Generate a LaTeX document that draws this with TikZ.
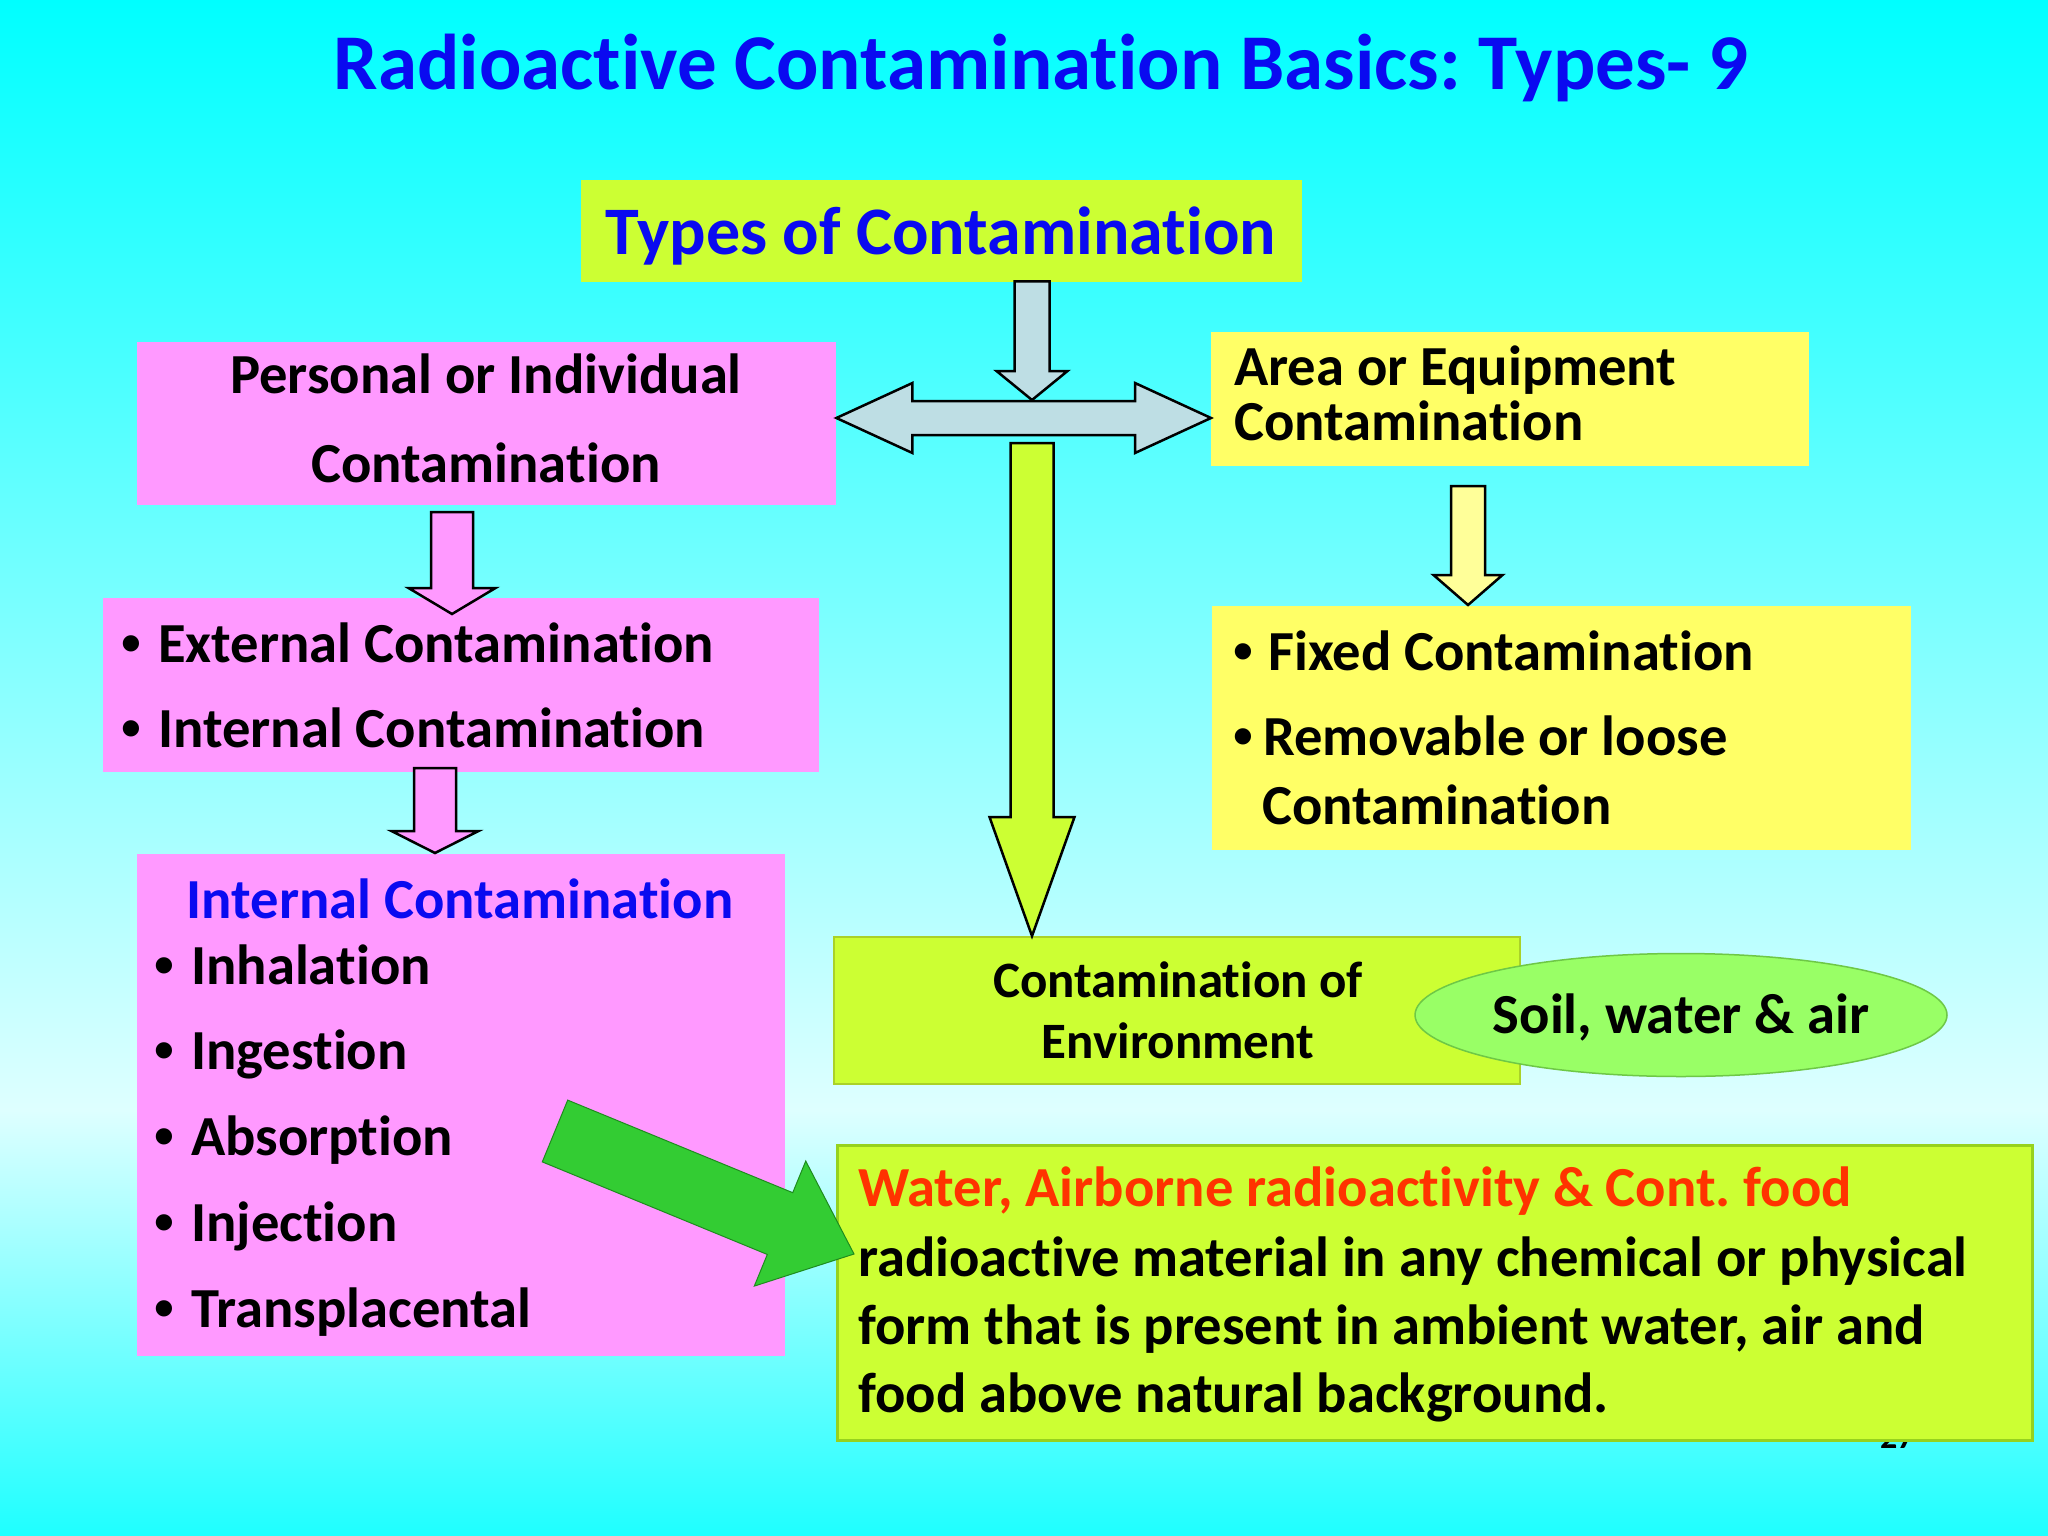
\documentclass[tikz,border=0pt]{standalone}
\usepackage{fontspec}
\setmainfont{Carlito}[Ligatures=NoCommon]
\newfontfamily\bulletfont{Liberation Sans}
\usetikzlibrary{calc,shapes.geometric}
\frenchspacing

\definecolor{skytop}{RGB}{0,255,255}
\definecolor{skymid}{RGB}{222,255,255}
\definecolor{skybot}{RGB}{30,255,255}
\definecolor{limefill}{RGB}{204,255,51}
\definecolor{pinkfill}{RGB}{255,153,255}
\definecolor{yellowfill}{RGB}{255,255,102}
\definecolor{paleyellow}{RGB}{255,255,153}
\definecolor{steelfill}{RGB}{190,222,228}
\definecolor{soilfill}{RGB}{153,255,102}
\definecolor{arrowgreen}{RGB}{51,204,51}
\definecolor{titleblue}{RGB}{10,10,240}
\definecolor{warnred}{RGB}{255,51,0}

% bullet in front of a line, #1 = gap to the text
\newcommand{\bul}[1]{\llap{{\bulletfont\textbullet}\hspace{#1}}}
% block arrow from #2 to #3: shaft half width #4, head half width #5, head length #6
\newcommand{\blockarr}[6][]{%
  \coordinate (ba-s) at (#2);
  \coordinate (ba-e) at (#3);
  \coordinate (ba-h) at ($(ba-e)!#6!(ba-s)$);
  \draw[#1] ($(ba-s)!#4!90:(ba-e)$) -- ($(ba-h)!#4!90:(ba-e)$) -- ($(ba-h)!#5!90:(ba-e)$)
    -- (ba-e) -- ($(ba-h)!#5!-90:(ba-e)$) -- ($(ba-h)!#4!-90:(ba-e)$) -- ($(ba-s)!#4!-90:(ba-e)$) -- cycle;}
% double headed block arrow between #2 and #3
\newcommand{\blockdarr}[6][]{%
  \coordinate (bd-a) at (#2);
  \coordinate (bd-b) at (#3);
  \coordinate (bd-ha) at ($(bd-a)!#6!(bd-b)$);
  \coordinate (bd-hb) at ($(bd-b)!#6!(bd-a)$);
  \draw[#1] (bd-a) -- ($(bd-ha)!#5!90:(bd-b)$) -- ($(bd-ha)!#4!90:(bd-b)$) -- ($(bd-hb)!#4!-90:(bd-a)$)
    -- ($(bd-hb)!#5!-90:(bd-a)$) -- (bd-b) -- ($(bd-hb)!#5!90:(bd-a)$) -- ($(bd-hb)!#4!90:(bd-a)$)
    -- ($(bd-ha)!#4!-90:(bd-b)$) -- ($(bd-ha)!#5!-90:(bd-b)$) -- cycle;}

\begin{document}
\begin{tikzpicture}[x=1pt,y=-1pt]
                \tikzstyle{every node}=[inner sep=0pt]
                \tikzstyle{box}=[rectangle, anchor=north west]
                \tikzstyle{txt}=[anchor=base west, font=\fontsize{56.6}{68}\selectfont\bfseries]
                \tikzstyle{ctxt}=[txt, anchor=base]
                \tikzstyle{outline}=[draw=black, line width=2.5pt, line join=miter]
                \useasboundingbox (0,0) rectangle (2048,1536);
                \shade[top color=skytop, bottom color=skymid] (0,0) rectangle (2048,1110);
                \shade[top color=skymid, bottom color=skybot] (0,1110) rectangle (2048,1536);
                \node[ctxt, font=\fontsize{79}{96}\selectfont\bfseries, text=titleblue] (title) at (1041,90) {Radioactive Contamination Basics: Types- 9};
                \node[txt, font=\fontsize{34}{40}\selectfont\bfseries] (pgnum) at (1880,1448) {27};
                % boxes
                \node[box, fill=limefill, minimum width=721pt, minimum height=102pt] (types) at (581,180) {};
                \node[box, fill=pinkfill, minimum width=699pt, minimum height=163pt] (pers) at (137,342) {};
                \node[box, fill=pinkfill, minimum width=716pt, minimum height=174pt] (extint) at (103,598) {};
                \node[box, fill=pinkfill, minimum width=648pt, minimum height=502pt] (intbox) at (137,854) {};
                \node[box, fill=yellowfill, minimum width=598pt, minimum height=134pt] (area) at (1211,332) {};
                \node[box, fill=yellowfill, minimum width=699pt, minimum height=244pt] (fixed) at (1212,606) {};
                \node[box, fill=limefill, draw={rgb,255:red,170;green,210;blue,40}, line width=2pt, minimum width=686pt, minimum height=147pt] (env) at (833,936) {};
                \node[box, fill=limefill, draw={rgb,255:red,150;green,210;blue,30}, line width=3pt, minimum width=1195pt, minimum height=295pt] (wbox) at (836,1144) {};
                \node[ellipse, fill=soilfill, draw={rgb,255:red,110;green,200;blue,70}, line width=1.5pt, minimum width=532pt, minimum height=123pt] (soil) at (1681,1015) {};
                % texts
                \node[ctxt, font=\fontsize{68}{80}\selectfont\bfseries, text=titleblue] (typest) at (941,254) {Types of Contamination};
                \node[ctxt] (perst1) at (486,393) {Personal or Individual};
                \node[ctxt] (perst2) at (486,482) {Contamination};
                \node[txt] (ext1) at (158,662) {\bul{17pt}External Contamination};
                \node[txt] (ext2) at (158,747) {\bul{17pt}Internal Contamination};
                \node[ctxt, text=titleblue] (inthead) at (460,918) {Internal Contamination};
                \foreach \t [count=\i] in {Inhalation,Ingestion,Absorption,Injection,Transplacental}
                    {
                        \node[txt] (route\i) at (191,{984+85.75*(\i-1)}) {\bul{17pt}\t};
                    }
                \node[txt] (areat1) at (1234,385) {Area or Equipment};
                \node[txt] (areat2) at (1234,440) {Contamination};
                \node[txt] (fix1) at (1268,670) {\bul{15pt}Fixed Contamination};
                \node[txt] (fix2) at (1263,755) {\bul{10pt}Removable or loose};
                \node[txt] (fix3) at (1262,824) {Contamination};
                \node[ctxt, font=\fontsize{51}{61}\selectfont\bfseries] (envt1) at (1178,997) {Contamination of};
                \node[ctxt, font=\fontsize{51}{61}\selectfont\bfseries] (envt2) at (1178,1058) {Environment};
                \node[ctxt] (soilt) at (soil.center |- 0,1033) {Soil, water \& air};
                \node[txt, text=warnred] (wt1) at (858,1206) {Water, Airborne radioactivity \& Cont. food};
                \node[txt] (wt2) at (858,1276) {radioactive material in any chemical or physical};
                \node[txt] (wt3) at (858,1344) {form that is present in ambient water, air and};
                \node[txt] (wt4) at (858,1412) {food above natural background.};
                % arrows
                \coordinate (hub) at (1032,418);
                \blockdarr[outline, fill=steelfill]{pers.east |- hub}{area.west |- hub}{17pt}{35pt}{76pt}
                \blockarr[outline, fill=steelfill]{$(types.south -| hub)+(0,-1)$}{1032,400}{17.5pt}{35.5pt}{29pt}
                \blockarr[outline, fill=limefill]{1032,443}{hub |- env.north}{21.5pt}{42.5pt}{119pt}
                \blockarr[outline, fill=pinkfill]{452,512}{452,614}{21pt}{43.5pt}{26pt}
                \blockarr[outline, fill=pinkfill]{435,768}{435,853}{21pt}{43.5pt}{22pt}
                \blockarr[outline, fill=paleyellow]{1468,486}{1468,605}{17pt}{34.5pt}{30pt}
                \blockarr[fill=arrowgreen, draw={rgb,255:red,30;green,140;blue,30}, line width=1pt]{555,1131}{854,1254}{33.4pt}{67.6pt}{80pt}
\end{tikzpicture}
\end{document}
